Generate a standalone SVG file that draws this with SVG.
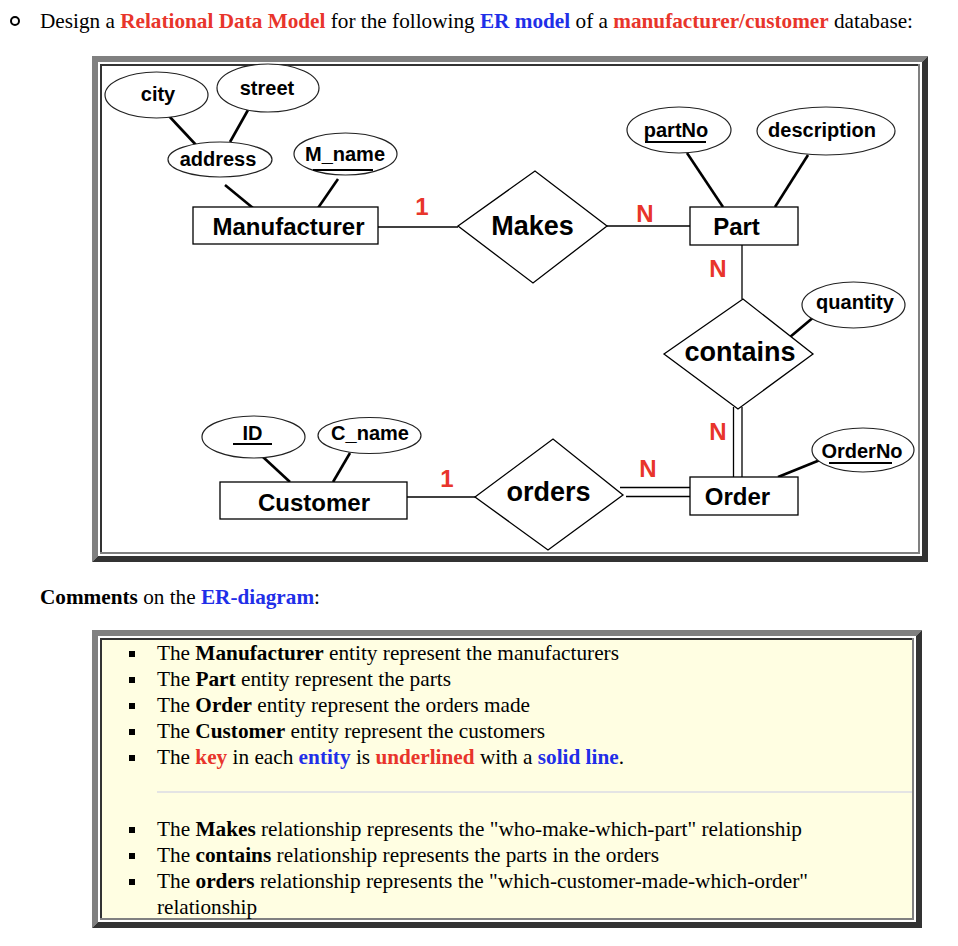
<svg xmlns="http://www.w3.org/2000/svg" width="958" height="946" viewBox="0 0 958 946">
<style>
.serif{font-family:"Liberation Serif","Times New Roman",serif;font-size:21px;fill:#000}
.b{font-weight:bold}
.red{fill:#e8352b;font-weight:bold}
.blue{fill:#1f2fe8;font-weight:bold}
.lbl{font-family:"Liberation Sans",Arial,sans-serif;font-weight:bold;fill:#000;text-anchor:middle}
.ent{font-size:24px}
.rel{font-size:27px}
.att{font-size:20px}
.card{font-family:"Liberation Sans",Arial,sans-serif;font-weight:bold;font-size:24px;fill:#e8352b;text-anchor:middle}
.shape{fill:#fff;stroke:#000;stroke-width:1.3}
.ell{fill:#fff;stroke:#222;stroke-width:1.2}
.thin{stroke:#000;stroke-width:1.3;fill:none}
.thick{stroke:#000;stroke-width:2.6;fill:none}
.key{stroke:#000;stroke-width:2}
.light{fill:#808080}
.dark{fill:#333}
</style>
<rect width="958" height="946" fill="#fff"/>

<!-- header -->
<circle cx="15" cy="21" r="4" fill="none" stroke="#000" stroke-width="2"/>
<text class="serif" x="40" y="28" textLength="873" lengthAdjust="spacingAndGlyphs">Design a <tspan class="red">Relational Data Model</tspan> for the following <tspan class="blue">ER model</tspan> of a <tspan class="red">manufacturer/customer</tspan> database:</text>

<!-- diagram frame -->
<g id="diagram-frame">
<polygon class="light" points="92,56 928,56 922,62 98,62 98,556 92,562"/>
<polygon class="dark" points="928,56 928,562 92,562 98,556 922,556 922,62"/>
<line x1="100" y1="65" x2="918" y2="65" stroke="#333" stroke-width="2"/>
<line x1="101" y1="64" x2="101" y2="552" stroke="#333" stroke-width="2"/>
<line x1="100" y1="553" x2="920" y2="553" stroke="#808080" stroke-width="2"/>
<line x1="919" y1="64" x2="919" y2="554" stroke="#808080" stroke-width="2"/>
</g>

<!-- connectors -->
<g id="connectors">
<line class="thick" x1="168" y1="115" x2="197" y2="146"/>
<line class="thick" x1="248" y1="110" x2="230" y2="142"/>
<line class="thick" x1="225" y1="185" x2="253" y2="208"/>
<line class="thick" x1="338" y1="179" x2="318" y2="208"/>
<line class="thin" x1="378" y1="227" x2="458" y2="227"/>
<line class="thin" x1="607" y1="226" x2="697" y2="226"/>
<line class="thick" x1="687" y1="153" x2="723" y2="207"/>
<line class="thick" x1="808" y1="155" x2="775" y2="207"/>
<line class="thin" x1="742" y1="245" x2="742" y2="299"/>
<line class="thick" x1="815" y1="316" x2="790" y2="337"/>
<line class="thin" x1="733.5" y1="407" x2="733.5" y2="477"/>
<line class="thin" x1="742" y1="407" x2="742" y2="477"/>
<line class="thick" x1="820" y1="460" x2="778" y2="477"/>
<line class="thick" x1="263" y1="457" x2="290" y2="482"/>
<line class="thick" x1="350" y1="453" x2="333" y2="482"/>
<line class="thin" x1="407" y1="497" x2="475" y2="497"/>
<line class="thin" x1="620" y1="487.5" x2="690" y2="487.5"/>
<line class="thin" x1="626" y1="496.5" x2="697" y2="496.5"/>
</g>

<!-- entities -->
<g id="manufacturer">
<rect class="shape" x="193" y="207" width="185" height="37"/>
<text class="lbl ent" x="288.5" y="235">Manufacturer</text>
</g>
<g id="part">
<rect class="shape" x="690" y="207" width="108" height="38"/>
<text class="lbl ent" x="736.5" y="235">Part</text>
</g>
<g id="order">
<rect class="shape" x="690" y="477" width="108" height="38"/>
<text class="lbl ent" x="737.5" y="505">Order</text>
</g>
<g id="customer">
<rect class="shape" x="220" y="482" width="187" height="37"/>
<text class="lbl ent" x="314" y="511">Customer</text>
</g>

<!-- relationships -->
<g id="makes">
<polygon class="shape" points="458,226 535,171 607,226 533,283"/>
<text class="lbl rel" x="532.5" y="235">Makes</text>
</g>
<g id="contains">
<polygon class="shape" points="664,354 743,299 813,354 738,409"/>
<text class="lbl rel" x="740" y="361">contains</text>
</g>
<g id="orders">
<polygon class="shape" points="475,497 553,439 623,495 548,550"/>
<text class="lbl rel" x="548.5" y="501">orders</text>
</g>

<!-- attributes -->
<g id="attr-city">
<ellipse class="ell" cx="156.5" cy="95" rx="51.5" ry="23"/>
<text class="lbl att" x="158" y="101">city</text>
</g>
<g id="attr-street">
<ellipse class="ell" cx="268" cy="88" rx="51" ry="24"/>
<text class="lbl att" x="267" y="95">street</text>
</g>
<g id="attr-address">
<ellipse class="ell" cx="220" cy="159.5" rx="52" ry="17.5"/>
<text class="lbl att" x="218" y="165.5">address</text>
</g>
<g id="attr-mname">
<ellipse class="ell" cx="345.5" cy="154" rx="51.5" ry="21"/>
<text class="lbl att" x="345" y="161">M_name</text>
<line class="key" x1="313" y1="170" x2="373" y2="170"/>
</g>
<g id="attr-partno">
<ellipse class="ell" cx="679" cy="130" rx="52" ry="23"/>
<text class="lbl att" x="676" y="137">partNo</text>
<line class="key" x1="645" y1="142" x2="706" y2="142"/>
</g>
<g id="attr-description">
<ellipse class="ell" cx="826" cy="131" rx="69" ry="24"/>
<text class="lbl att" x="822" y="137">description</text>
</g>
<g id="attr-quantity">
<ellipse class="ell" cx="853.5" cy="305" rx="51.5" ry="23"/>
<text class="lbl att" x="855" y="309">quantity</text>
</g>
<g id="attr-orderno">
<ellipse class="ell" cx="863" cy="450" rx="51" ry="22"/>
<text class="lbl att" x="862" y="458">OrderNo</text>
<line class="key" x1="829" y1="463" x2="892" y2="463"/>
</g>
<g id="attr-id">
<ellipse class="ell" cx="253.5" cy="437" rx="51.5" ry="21"/>
<text class="lbl att" x="252.5" y="440">ID</text>
<line class="key" x1="233" y1="444" x2="272" y2="444"/>
</g>
<g id="attr-cname">
<ellipse class="ell" cx="369.5" cy="435.5" rx="51.5" ry="18"/>
<text class="lbl att" x="370" y="440">C_name</text>
</g>

<!-- cardinalities -->
<g id="cardinalities">
<text class="card" x="422" y="215">1</text>
<text class="card" x="645" y="222">N</text>
<text class="card" x="718" y="277">N</text>
<text class="card" x="718" y="440">N</text>
<text class="card" x="648" y="477">N</text>
<text class="card" x="447" y="487">1</text>
</g>

<!-- comments -->
<text class="serif" x="40" y="604" textLength="280" lengthAdjust="spacingAndGlyphs"><tspan class="b">Comments</tspan> on the <tspan class="blue">ER-diagram</tspan>:</text>

<g id="comments-box">
<polygon class="light" points="92,630 922,630 916,636 98,636 98,922 92,928"/>
<polygon class="dark" points="922,630 922,928 92,928 98,922 916,922 916,636"/>
<rect x="100" y="638" width="814" height="282" fill="#fffee2"/>
<line x1="100" y1="639" x2="912" y2="639" stroke="#333" stroke-width="2"/>
<line x1="101" y1="638" x2="101" y2="918" stroke="#333" stroke-width="2"/>
<line x1="100" y1="919" x2="914" y2="919" stroke="#808080" stroke-width="2"/>
<line x1="913" y1="638" x2="913" y2="920" stroke="#808080" stroke-width="2"/>
<line x1="157" y1="792" x2="912" y2="792" stroke="#e4e4e4" stroke-width="2"/>
<g fill="#000">
<rect x="129" y="651" width="6" height="6"/>
<rect x="129" y="677" width="6" height="6"/>
<rect x="129" y="703" width="6" height="6"/>
<rect x="129" y="729" width="6" height="6"/>
<rect x="129" y="755" width="6" height="6"/>
<rect x="129" y="827" width="6" height="6"/>
<rect x="129" y="853" width="6" height="6"/>
<rect x="129" y="879" width="6" height="6"/>
</g>
<text class="serif" x="157" y="660" textLength="462" lengthAdjust="spacingAndGlyphs">The <tspan class="b">Manufacturer</tspan> entity represent the manufacturers</text>
<text class="serif" x="157" y="686" textLength="294" lengthAdjust="spacingAndGlyphs">The <tspan class="b">Part</tspan> entity represent the parts</text>
<text class="serif" x="157" y="712" textLength="373" lengthAdjust="spacingAndGlyphs">The <tspan class="b">Order</tspan> entity represent the orders made</text>
<text class="serif" x="157" y="738" textLength="388" lengthAdjust="spacingAndGlyphs">The <tspan class="b">Customer</tspan> entity represent the customers</text>
<text class="serif" x="157" y="764" textLength="467" lengthAdjust="spacingAndGlyphs">The <tspan class="red">key</tspan> in each <tspan class="blue">entity</tspan> is <tspan class="red">underlined</tspan> with a <tspan class="blue">solid line</tspan>.</text>
<text class="serif" x="157" y="836" textLength="645" lengthAdjust="spacingAndGlyphs">The <tspan class="b">Makes</tspan> relationship represents the "who-make-which-part" relationship</text>
<text class="serif" x="157" y="862" textLength="502" lengthAdjust="spacingAndGlyphs">The <tspan class="b">contains</tspan> relationship represents the parts in the orders</text>
<text class="serif" x="157" y="888" textLength="651" lengthAdjust="spacingAndGlyphs">The <tspan class="b">orders</tspan> relationship represents the "which-customer-made-which-order"</text>
<text class="serif" x="157" y="914" textLength="100" lengthAdjust="spacingAndGlyphs">relationship</text>
</g>
</svg>
